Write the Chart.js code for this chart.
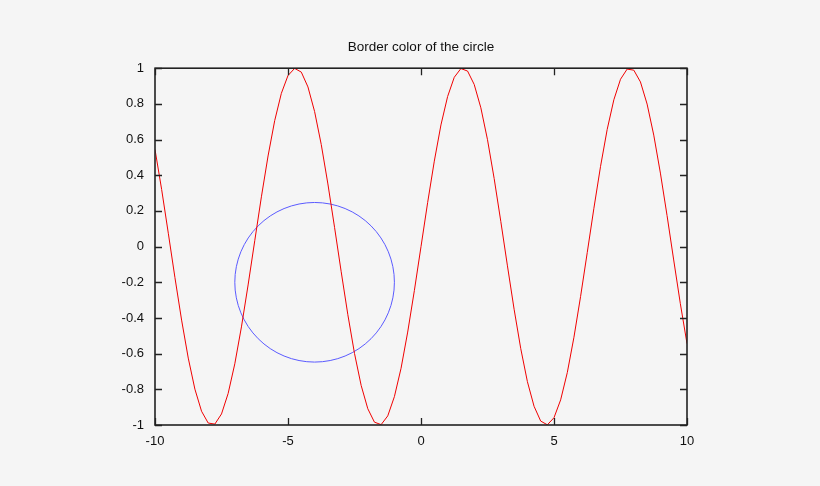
<!DOCTYPE html>
<html>
<head>
<meta charset="utf-8">
<script src="https://cdn.jsdelivr.net/npm/chart.js@4/dist/chart.umd.min.js"></script>
<style>
  body { margin: 0; background: #f5f5f5; }
  canvas { display: block; }
</style>
</head>
<body>
<canvas id="chart" width="820" height="486"></canvas>
<script>
// curve samples
var xs = [-10, -9.75, -9.5, -9.25, -9, -8.75, -8.5, -8.25, -8, -7.75, -7.5, -7.25, -7, -6.75, -6.5, -6.25,
  -6, -5.75, -5.5, -5.25, -5, -4.75, -4.5, -4.25, -4, -3.75, -3.5, -3.25, -3, -2.75, -2.5, -2.25,
  -2, -1.75, -1.5, -1.25, -1, -0.75, -0.5, -0.25, 0, 0.25, 0.5, 0.75, 1, 1.25, 1.5, 1.75,
  2, 2.25, 2.5, 2.75, 3, 3.25, 3.5, 3.75, 4, 4.25, 4.5, 4.75, 5, 5.25, 5.5, 5.75,
  6, 6.25, 6.5, 6.75, 7, 7.25, 7.5, 7.75, 8, 8.25, 8.5, 8.75, 9, 9.25, 9.5, 9.75, 10];
var ys = [0.544, 0.320, 0.075, -0.174, -0.412, -0.625, -0.799, -0.923, -0.989, -0.995, -0.938, -0.823, -0.657, -0.450, -0.215, 0.033,
  0.279, 0.508, 0.706, 0.859, 0.959, 0.999, 0.978, 0.895, 0.757, 0.572, 0.351, 0.108, -0.141, -0.382, -0.599, -0.778,
  -0.909, -0.984, -0.998, -0.949, -0.841, -0.682, -0.479, -0.247, 0, 0.247, 0.479, 0.682, 0.841, 0.949, 0.998, 0.984,
  0.909, 0.778, 0.599, 0.382, 0.141, -0.108, -0.351, -0.572, -0.757, -0.895, -0.978, -0.999, -0.959, -0.859, -0.706, -0.508,
  -0.279, -0.033, 0.215, 0.450, 0.657, 0.823, 0.938, 0.995, 0.989, 0.923, 0.799, 0.625, 0.412, 0.174, -0.075, -0.320, -0.544];

// circle: centre and radius (radius in x-axis units)
var circleX = -4;
var circleY = -0.2;
var circleR = 3;

var titleText = "Border color of the circle";

var curve = xs.map(function (x, i) {
  return { x: x, y: ys[i] };
});

var font = "'Liberation Sans', Arial, sans-serif";

// gnuplot style frame with ticks drawn inwards on all four sides
var framePlugin = {
  id: "frame",
  afterDatasetsDraw: function (chart) {
    var c = chart.ctx;
    var a = chart.chartArea;
    var sx = chart.scales.x;
    var sy = chart.scales.y;
    var len = 7;
    c.save();
    c.strokeStyle = "#222";
    c.lineWidth = 1.3;
    c.beginPath();
    sx.ticks.forEach(function (t) {
      var px = Math.round(sx.getPixelForValue(t.value)) + 0.5;
      c.moveTo(px, a.bottom);
      c.lineTo(px, a.bottom - len);
      c.moveTo(px, a.top);
      c.lineTo(px, a.top + len);
    });
    sy.ticks.forEach(function (t) {
      var py = Math.round(sy.getPixelForValue(t.value)) + 0.5;
      c.moveTo(a.left, py);
      c.lineTo(a.left + len, py);
      c.moveTo(a.right, py);
      c.lineTo(a.right - len, py);
    });
    c.stroke();
    c.lineWidth = 1.6;
    c.strokeRect(a.left, a.top, a.right - a.left, a.bottom - a.top);
    c.restore();
  },
};

var ctx = document.getElementById("chart").getContext("2d");

var chart = new Chart(ctx, {
  type: "line",
  data: {
    datasets: [
      {
        data: curve,
        borderColor: "#f00000",
        borderWidth: 1,
        pointRadius: 0,
        tension: 0,
        fill: false,
      },
      {
        type: "scatter",
        data: [{ x: circleX, y: circleY }],
        showLine: false,
        pointStyle: "circle",
        pointBackgroundColor: "rgba(0,0,0,0)",
        pointBorderColor: "#5a5aff",
        pointBorderWidth: 1,
        pointRadius: function (c) {
          var s = c.chart.scales.x;
          return s.getPixelForValue(circleR) - s.getPixelForValue(0);
        },
      },
    ],
  },
  options: {
    responsive: false,
    animation: false,
    events: [],
    layout: {
      padding: { left: 22, right: 0, top: 0, bottom: 31 },
    },
    plugins: {
      legend: { display: false },
      tooltip: { enabled: false },
      title: {
        display: true,
        text: titleText,
        color: "#111",
        font: { family: font, size: 13.5, weight: "normal", lineHeight: 1.2 },
        padding: { top: 39, bottom: 13 },
      },
    },
    scales: {
      x: {
        type: "linear",
        min: -10,
        max: 10,
        grid: { display: false, drawTicks: false },
        border: { display: false },
        ticks: {
          stepSize: 5,
          padding: 9,
          color: "#111",
          maxRotation: 0,
          font: { family: font, size: 13 },
        },
        afterFit: function (s) {
          s.height = 30;
        },
      },
      y: {
        type: "linear",
        min: -1,
        max: 1,
        grid: { display: false, drawTicks: false },
        border: { display: false },
        ticks: {
          stepSize: 0.2,
          padding: 11,
          color: "#111",
          font: { family: font, size: 13 },
          callback: function (v) {
            return Math.round(v * 10) / 10 + "";
          },
        },
        afterFit: function (s) {
          s.width = 133;
        },
      },
      // empty right margin, keeps the title centred over the plot
      y2: {
        type: "linear",
        position: "right",
        min: -1,
        max: 1,
        grid: { display: false, drawTicks: false },
        border: { display: false },
        ticks: { display: false },
        afterFit: function (s) {
          s.width = 133;
        },
      },
    },
  },
  plugins: [framePlugin],
});
</script>
</body>
</html>
